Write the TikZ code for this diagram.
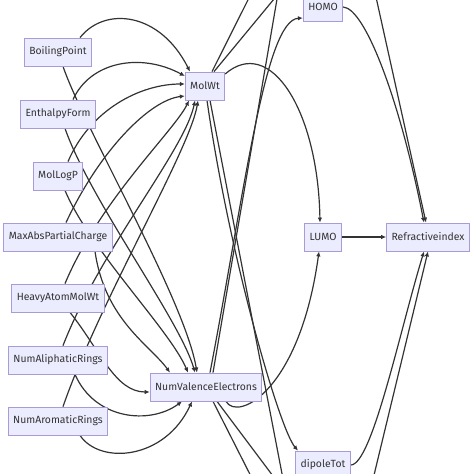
\documentclass[tikz,border=0pt]{standalone}
\usepackage{fontspec}
\setmainfont{Fira Sans}
\usetikzlibrary{arrows.meta,backgrounds}
\definecolor{boxfill}{HTML}{ECECFF}
\definecolor{boxline}{HTML}{A99BDA}
\definecolor{edgecol}{HTML}{333333}

\begin{document}
\begin{tikzpicture}[x=1pt,y=-1pt,
    box/.style={draw=boxline, fill=boxfill, line width=0.8pt, minimum height=28pt, inner xsep=5pt, font=\fontsize{10.4}{12}\selectfont, text=edgecol},
    link/.style={draw=edgecol, line width=1.2pt, -{Latex[length=5pt,width=4.5pt]}}]
    \useasboundingbox (0,0) rectangle (474,474);
    \clip (0,0) rectangle (474,474);
    \node[box] (bp) at (58,52) {BoilingPoint};
    \node[box] (ef) at (58,114) {EnthalpyForm};
    \node[box] (ml) at (58,176) {MolLogP};
    \node[box] (ma) at (58,237) {MaxAbsPartialCharge};
    \node[box] (hw) at (58,298) {HeavyAtomMolWt};
    \node[box] (na) at (58,360) {NumAliphaticRings};
    \node[box] (nr) at (58,421) {NumAromaticRings};
    \node[box] (mw) at (205,86) {MolWt};
    \node[box] (nve) at (206,387) {NumValenceElectrons};
    \node[box] (homo) at (323,7) {HOMO};
    \node[box] (lumo) at (323,237) {LUMO};
    \node[box] (dt) at (323,465) {dipoleTot};
    \node[box] (ri) at (428,237) {Refractiveindex};
    \coordinate (upA) at (263,-30);
    \coordinate (upB) at (298,-30);
    \coordinate (upC) at (282,-30);
    \coordinate (upR) at (370,-30);
    \coordinate (downA) at (289,510);
    \coordinate (downB) at (263,500);
    \coordinate (downC) at (291,500);
    \coordinate (downR) at (368,500);
    \begin{scope}[on background layer]
    \clip (0,0) rectangle (474,474);
    \draw[link] ([xshift=22pt]bp.north) .. controls (105,6) and (160,12) .. ([xshift=-15pt]mw.north);
    \draw[link] ([xshift=15pt]ef.north) .. controls (90,62) and (140,52) .. ([yshift=10pt]mw.west);
    \draw[link] ([xshift=10pt]ml.north) .. controls (90,110) and (140,84) .. ([yshift=2pt]mw.west);
    \draw[link] ([xshift=8pt]ma.north) .. controls (100,150) and (150,100) .. ([yshift=-10pt]mw.west);
    \draw[link] ([xshift=7pt]hw.north) .. controls (100,200) and (175,130) .. ([xshift=-16pt]mw.south);
    \draw[link] ([xshift=5pt]na.north) .. controls (100,250) and (185,150) .. ([xshift=-10pt]mw.south);
    \draw[link] ([xshift=5pt]nr.north) .. controls (100,300) and (190,150) .. ([xshift=-7pt]mw.south);
    \draw[link] ([xshift=5pt]bp.south) .. controls (85,130) and (185,300) .. ([xshift=-9pt]nve.north);
    \draw[link] ([xshift=7pt]ef.south) .. controls (90,200) and (180,320) .. ([xshift=-11pt]nve.north);
    \draw[link] ([xshift=7pt]ml.south) .. controls (90,250) and (170,330) .. ([xshift=-18pt]nve.north);
    \draw[link] ([xshift=37pt]ma.south) .. controls (105,320) and (150,345) .. ([xshift=-36pt]nve.north);
    \draw[link] ([xshift=12pt]hw.south) .. controls (100,350) and (115,392) .. ([yshift=-5pt]nve.west);
    \draw[link] ([xshift=17pt]na.south) .. controls (95,420) and (150,425) .. ([xshift=-24pt]nve.south);
    \draw[link] ([xshift=22pt]nr.south) .. controls (100,465) and (165,460) .. ([xshift=-14pt]nve.south);
    \draw[link] ([xshift=7pt]mw.north) -- (upA);
    \draw[link] ([xshift=9pt]mw.north) -- (upB);
    \draw[link] ([yshift=12pt]mw.east) .. controls (270,35) and (318,110) .. ([xshift=-3pt]lumo.north);
    \draw[link] ([xshift=2pt]mw.south) .. controls (230,260) and (280,430) .. ([xshift=-25pt]dt.north);
    \draw[link] ([xshift=5pt]mw.south) -- (downA);
    \draw[link] ([xshift=4pt]nve.north) .. controls (245,190) and (265,20) .. ([yshift=-11pt]homo.west);
    \draw[link] ([xshift=7pt]nve.north) -- (upC);
    \draw[link] ([xshift=20pt]nve.south) .. controls (238,422) and (300,390) .. ([xshift=-4pt]lumo.south);
    \draw[link] ([xshift=7pt]nve.south) -- (downB);
    \draw[link] ([xshift=11pt]nve.south) -- (downC);
    \draw[link] (homo.east) .. controls (365,8) and (400,100) .. ([xshift=-4pt]ri.north);
    \draw[link] (upR) -- ([xshift=-2pt]ri.north);
    \draw[link] (lumo) -- (ri);
    \draw[link] (dt.east) .. controls (372,465) and (400,330) .. ([xshift=-4pt]ri.south);
    \draw[link] (downR) -- (ri.south);
    \end{scope}
\end{tikzpicture}
\end{document}
